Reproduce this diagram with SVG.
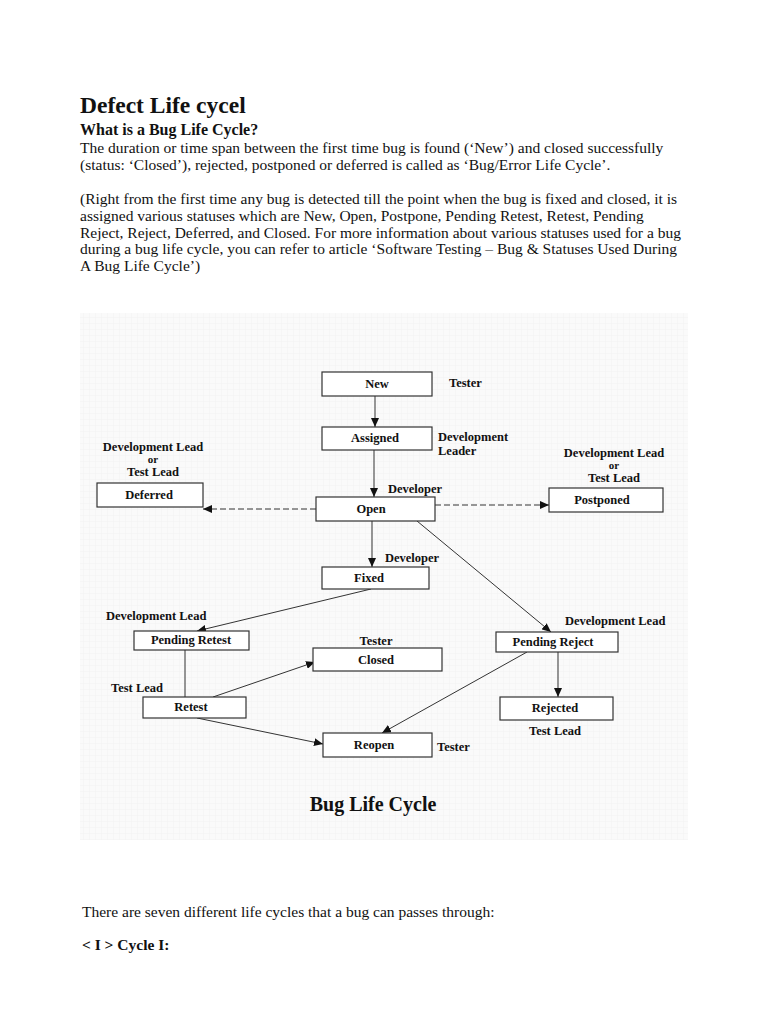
<svg xmlns="http://www.w3.org/2000/svg" width="768" height="1024" viewBox="0 0 768 1024">
<defs>
<style>
.body{font-family:"Liberation Serif","Times New Roman",serif;font-size:15.5px;fill:#111}
.bold{font-weight:bold}
.lbl{font-family:"Liberation Serif","Times New Roman",serif;font-size:12.5px;font-weight:bold;fill:#111}
.or{font-size:11px}
.box rect{fill:#fff;stroke:#333;stroke-width:1.2}
.box text{font-family:"Liberation Serif","Times New Roman",serif;font-size:12.5px;font-weight:bold;fill:#111;text-anchor:middle}
.c{stroke:#333;stroke-width:1;fill:none}
.d{stroke:#333;stroke-width:1.2;fill:none;stroke-dasharray:6 3}
</style>
<marker id="ah" markerWidth="9" markerHeight="8" refX="9" refY="4" orient="auto" markerUnits="userSpaceOnUse">
<path d="M0,0 L9,4 L0,8 z" fill="#111"/>
</marker>
<pattern id="grid" width="6" height="6" patternUnits="userSpaceOnUse">
<rect width="6" height="6" fill="#fafafa"/>
<path d="M6,0 V6 M0,6 H6" stroke="#f0f0f0" stroke-width="0.6"/>
</pattern>
</defs>
<rect width="768" height="1024" fill="#fff"/>

<g id="article-text">
<text class="body bold" x="80" y="113" style="font-size:23.5px">Defect Life cycel</text>
<text class="body bold" x="80" y="135" style="font-size:16px">What is a Bug Life Cycle?</text>
<text class="body" x="80" y="153">The duration or time span between the first time bug is found (‘New’) and closed successfully</text>
<text class="body" x="80" y="170">(status: ‘Closed’), rejected, postponed or deferred is called as ‘Bug/Error Life Cycle’.</text>
<text class="body" x="80" y="204">(Right from the first time any bug is detected till the point when the bug is fixed and closed, it is</text>
<text class="body" x="80" y="221">assigned various statuses which are New, Open, Postpone, Pending Retest, Retest, Pending</text>
<text class="body" x="80" y="238">Reject, Reject, Deferred, and Closed. For more information about various statuses used for a bug</text>
<text class="body" x="80" y="254">during a bug life cycle, you can refer to article ‘Software Testing – Bug &amp; Statuses Used During</text>
<text class="body" x="80" y="271">A Bug Life Cycle’)</text>
<text class="body" x="82" y="917">There are seven different life cycles that a bug can passes through:</text>
<text class="body bold" x="82" y="950">&lt; I &gt; Cycle I:</text>
</g>

<rect id="diagram-bg" x="80" y="313" width="608" height="527" fill="url(#grid)"/>

<g id="connectors">
<line class="c" x1="375" y1="396" x2="375" y2="427" marker-end="url(#ah)"/>
<line class="c" x1="374" y1="450" x2="374" y2="497" marker-end="url(#ah)"/>
<line class="d" x1="316" y1="509" x2="203" y2="509" marker-end="url(#ah)"/>
<line class="d" x1="435" y1="505" x2="549" y2="505" marker-end="url(#ah)"/>
<line class="c" x1="372" y1="521" x2="372" y2="567" marker-end="url(#ah)"/>
<line class="c" x1="417" y1="521" x2="551" y2="632" marker-end="url(#ah)"/>
<line class="c" x1="371" y1="589" x2="197" y2="631" marker-end="url(#ah)"/>
<line class="c" x1="185" y1="650" x2="185" y2="697"/>
<line class="c" x1="213" y1="697" x2="315" y2="662" marker-end="url(#ah)"/>
<line class="c" x1="197" y1="718" x2="323" y2="744" marker-end="url(#ah)"/>
<line class="c" x1="527" y1="652" x2="382" y2="733" marker-end="url(#ah)"/>
<line class="c" x1="558" y1="652" x2="558" y2="697" marker-end="url(#ah)"/>
</g>

<g id="node-new" class="box"><rect x="322" y="372" width="110" height="24"/><text x="377" y="388">New</text></g>
<g id="node-assigned" class="box"><rect x="322" y="427" width="110" height="23"/><text x="375" y="442">Assigned</text></g>
<g id="node-open" class="box"><rect x="316" y="497" width="119" height="24"/><text x="371" y="513">Open</text></g>
<g id="node-deferred" class="box"><rect x="97" y="483" width="106" height="24"/><text x="149" y="499">Deferred</text></g>
<g id="node-postponed" class="box"><rect x="549" y="488" width="114" height="24"/><text x="602" y="504">Postponed</text></g>
<g id="node-fixed" class="box"><rect x="322" y="567" width="107" height="22"/><text x="369" y="582">Fixed</text></g>
<g id="node-pending-retest" class="box"><rect x="134" y="631" width="115" height="19"/><text x="191" y="644">Pending Retest</text></g>
<g id="node-closed" class="box"><rect x="313" y="648" width="129" height="23"/><text x="376" y="664">Closed</text></g>
<g id="node-retest" class="box"><rect x="143" y="697" width="103" height="21"/><text x="191" y="711">Retest</text></g>
<g id="node-reopen" class="box"><rect x="323" y="733" width="109" height="24"/><text x="374" y="749">Reopen</text></g>
<g id="node-pending-reject" class="box"><rect x="496" y="632" width="122" height="20"/><text x="553" y="646">Pending Reject</text></g>
<g id="node-rejected" class="box"><rect x="500" y="697" width="113" height="23"/><text x="555" y="712">Rejected</text></g>

<g id="role-labels">
<text class="lbl" x="449" y="387">Tester</text>
<text class="lbl" x="438" y="441">Development</text>
<text class="lbl" x="438" y="455">Leader</text>
<text class="lbl" x="153" y="451" text-anchor="middle">Development Lead</text>
<text class="lbl or" x="153" y="463" text-anchor="middle">or</text>
<text class="lbl" x="153" y="476" text-anchor="middle">Test Lead</text>
<text class="lbl" x="614" y="457" text-anchor="middle">Development Lead</text>
<text class="lbl or" x="614" y="469" text-anchor="middle">or</text>
<text class="lbl" x="614" y="482" text-anchor="middle">Test Lead</text>
<text class="lbl" x="388" y="493">Developer</text>
<text class="lbl" x="385" y="562">Developer</text>
<text class="lbl" x="106" y="620">Development Lead</text>
<text class="lbl" x="376" y="645" text-anchor="middle">Tester</text>
<text class="lbl" x="111" y="692">Test Lead</text>
<text class="lbl" x="565" y="625">Development Lead</text>
<text class="lbl" x="555" y="735" text-anchor="middle">Test Lead</text>
<text class="lbl" x="437" y="751">Tester</text>
<text class="lbl" x="373" y="811" text-anchor="middle" style="font-size:20px">Bug Life Cycle</text>
</g>
</svg>
